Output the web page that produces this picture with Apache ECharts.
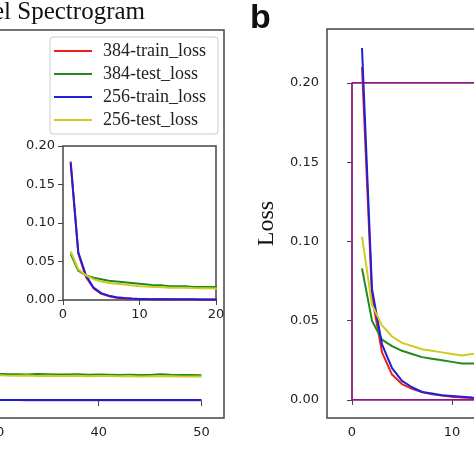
<!DOCTYPE html>
<html><head><meta charset="utf-8">
<script src="https://cdn.jsdelivr.net/npm/echarts@6/dist/echarts.min.js"></script>
<style>html,body{margin:0;padding:0;background:#fff}#c{width:474px;height:474px}</style>
</head><body><div id="c"></div>
<script>
// panel a, epochs 1..50
const epochsA = []
for (let i = 1; i <= 50; i++) epochsA.push(i)
const a384Train = [0.180,0.060,0.030,0.015,0.008,0.005,0.003,0.002,0.0015,0.0012,0.0011,0.0010,0.0009,0.0009,0.0008,0.0008,0.0008,0.0007,0.0007,0.0007,
  0.0007,0.0007,0.0006,0.0006,0.0006,0.0006,0.0006,0.0006,0.0006,0.0006,0.0006,0.0006,0.0005,0.0005,0.0005,0.0005,0.0005,0.0005,0.0005,0.0005,
  0.0005,0.0005,0.0005,0.0005,0.0005,0.0005,0.0005,0.0005,0.0005,0.0005]
const a256Train = [0.178,0.062,0.032,0.016,0.009,0.0055,0.0035,0.0025,0.0018,0.0014,0.0012,0.0011,0.0010,0.0010,0.0009,0.0009,0.0009,0.0008,0.0008,0.0008,
  0.0008,0.0008,0.0007,0.0007,0.0007,0.0007,0.0007,0.0007,0.0007,0.0007,0.0007,0.0007,0.0006,0.0006,0.0006,0.0006,0.0006,0.0006,0.0006,0.0006,
  0.0006,0.0006,0.0006,0.0006,0.0006,0.0006,0.0006,0.0006,0.0006,0.0006]
const a384Test = [0.060,0.038,0.032,0.029,0.027,0.025,0.024,0.023,0.022,0.021,0.020,0.019,0.019,0.018,0.018,0.018,0.017,0.017,0.017,0.017,
  0.017,0.0172,0.0168,0.0170,0.0166,0.0168,0.0165,0.0167,0.0166,0.0169,0.0167,0.0166,0.0165,0.0167,0.0166,0.0164,0.0165,0.0166,0.0163,0.0164,
  0.0163,0.0162,0.0163,0.0161,0.0162,0.0166,0.0163,0.0162,0.0161,0.0160]
const a256Test = [0.063,0.040,0.032,0.027,0.024,0.022,0.021,0.020,0.019,0.018,0.0175,0.017,0.0165,0.016,0.016,0.0158,0.0155,0.0153,0.0152,0.015,
  0.0158,0.0162,0.0160,0.0158,0.0160,0.0157,0.0159,0.0158,0.0157,0.0160,0.0158,0.0157,0.0158,0.0156,0.0157,0.0155,0.0156,0.0157,0.0154,0.0155,
  0.0155,0.0154,0.0155,0.0153,0.0154,0.0155,0.0154,0.0153,0.0153,0.0152]
// panel b, epochs 1..13 (rest is outside the picture)
const epochsB = [1,2,3,4,5,6,7,8,9,10,11,12,13]
const b384Train = [0.210,0.065,0.030,0.016,0.010,0.007,0.005,0.0035,0.0028,0.0020,0.0015,0.0012,0.0010]
const b256Train = [0.222,0.070,0.035,0.020,0.012,0.008,0.005,0.004,0.003,0.0025,0.0020,0.0015,0.0012]
const b384Test = [0.083,0.050,0.038,0.034,0.031,0.029,0.027,0.026,0.025,0.024,0.023,0.023,0.023]
const b256Test = [0.103,0.060,0.047,0.040,0.036,0.034,0.032,0.031,0.030,0.029,0.028,0.029,0.029]
const boxX = [0, 0, 40, 40, 0]
const boxY = [0, 0.20, 0.20, 0, 0]
const ticksA = [30, 40, 50]
const ticksB = [0, 10, 20, 30]
const ticksLoss = [0, 0.05, 0.1, 0.15, 0.2]

const RED = '#e8201f', GREEN = '#1f8a1f', BLUE = '#1f1fd8', YEL = '#cccc22'
const pairs = (xs, ys) => xs.map((x, i) => [x, ys[i]])
const tickFont = {fontFamily: 'DejaVu Sans', fontSize: 13, color: '#222'}

function line(name, color, xi, yi, xs, ys, w, z) {
  return {name: name, type: 'line', xAxisIndex: xi, yAxisIndex: yi, data: pairs(xs, ys),
    showSymbol: false, lineStyle: {color: color, width: w || 2}, itemStyle: {color: color}, z: z || 3}
}

const chart = echarts.init(document.getElementById('c'))
chart.setOption({
  animation: false,
  backgroundColor: '#fff',
  grid: [
    {left: -4, top: 30, width: 228, height: 388, show: true, borderColor: '#444', borderWidth: 1.5, backgroundColor: '#fff', outerBoundsMode: 'none'},
    {left: 63, top: 146, width: 153, height: 154, show: true, borderColor: '#444', borderWidth: 1.5, backgroundColor: '#fff', z: 5, outerBoundsMode: 'none'},
    {left: 327, top: 29, width: 325, height: 389, show: true, borderColor: '#444', borderWidth: 1.5, outerBoundsMode: 'none'}
  ],
  xAxis: [
    {type: 'value', gridIndex: 0, min: 30, max: 52.2, splitLine: {show: false},
      axisLine: {show: false}, axisTick: {show: true, customValues: ticksA, lineStyle: {color: '#444'}},
      axisLabel: Object.assign({customValues: ticksA}, tickFont)},
    {type: 'value', gridIndex: 1, min: 0, max: 20, interval: 10, splitLine: {show: false}, z: 6,
      axisLine: {show: false}, axisTick: {show: true, lineStyle: {color: '#444'}}, axisLabel: tickFont},
    {type: 'value', gridIndex: 2, min: -2.5, max: 30, splitLine: {show: false},
      axisLine: {show: false}, axisTick: {show: true, customValues: ticksB, lineStyle: {color: '#444'}},
      axisLabel: Object.assign({customValues: ticksB}, tickFont)}
  ],
  yAxis: [
    {type: 'value', gridIndex: 0, min: -0.0105, max: 0.23, splitLine: {show: false},
      axisLine: {show: false}, axisTick: {show: false}, axisLabel: {show: false}},
    {type: 'value', gridIndex: 1, min: 0, max: 0.2, interval: 0.05, splitLine: {show: false}, z: 6,
      axisLine: {show: false}, axisTick: {show: true, lineStyle: {color: '#444'}},
      axisLabel: Object.assign({formatter: v => v.toFixed(2)}, tickFont)},
    {type: 'value', gridIndex: 2, min: -0.0114, max: 0.234, splitLine: {show: false},
      name: 'Loss', nameLocation: 'middle', nameGap: 48, nameRotate: 90,
      nameTextStyle: {fontFamily: 'Liberation Serif', fontSize: 24, color: '#111'},
      axisLine: {show: false}, axisTick: {show: true, customValues: ticksLoss, lineStyle: {color: '#444'}},
      axisLabel: Object.assign({customValues: ticksLoss, formatter: v => v.toFixed(2)}, tickFont)}
  ],
  legend: {
    left: 50, top: 37, orient: 'vertical', itemGap: 5, itemWidth: 38, itemHeight: 14,
    padding: [5, 12, 5, 4], borderColor: '#ccc', borderWidth: 1, borderRadius: 3, backgroundColor: '#fff',
    icon: 'path://M0,6 L38,6 L38,8 L0,8 Z',
    textStyle: {fontFamily: 'Liberation Serif', fontSize: 18, color: '#222', padding: [0, 0, 0, 6]},
    data: ['384-train_loss', '384-test_loss', '256-train_loss', '256-test_loss']
  },
  graphic: [
    {type: 'text', right: 329, top: 0, style: {text: 'Mel Spectrogram', fontFamily: 'Liberation Serif', fontSize: 25, fill: '#111'}},
    {type: 'text', left: 250, top: 2, style: {text: 'b', fontFamily: 'Liberation Sans', fontWeight: 'bold', fontSize: 34, fill: '#111'}}
  ],
  series: [
    line('384-train_loss', RED, 0, 0, epochsA, a384Train),
    line('384-test_loss', GREEN, 0, 0, epochsA, a384Test),
    line('256-train_loss', BLUE, 0, 0, epochsA, a256Train),
    line('256-test_loss', YEL, 0, 0, epochsA, a256Test),
    line('384-train_loss', RED, 1, 1, epochsA, a384Train, 2, 10),
    line('384-test_loss', GREEN, 1, 1, epochsA, a384Test, 2, 10),
    line('256-train_loss', BLUE, 1, 1, epochsA, a256Train, 2, 10),
    line('256-test_loss', YEL, 1, 1, epochsA, a256Test, 2, 10),
    line('box', '#8a1a8a', 2, 2, boxX, boxY, 1.8),
    line('b384train', RED, 2, 2, epochsB, b384Train),
    line('b384test', GREEN, 2, 2, epochsB, b384Test),
    line('b256train', BLUE, 2, 2, epochsB, b256Train),
    line('b256test', YEL, 2, 2, epochsB, b256Test)
  ]
})
</script></body></html>
